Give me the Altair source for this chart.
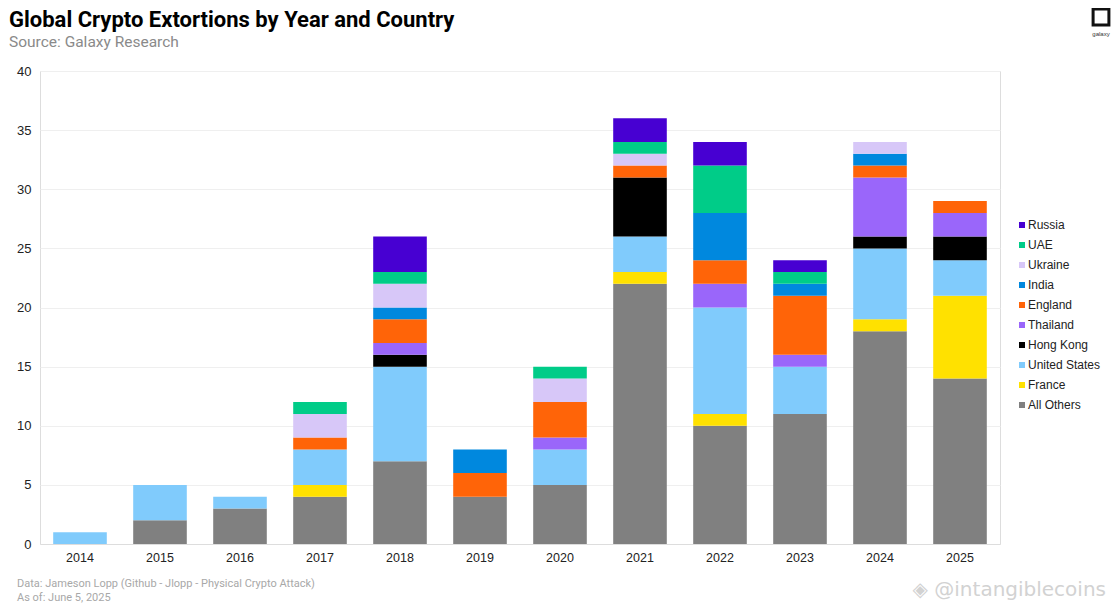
import altair as alt
import pandas as pd

years = ["2014", "2015", "2016", "2017", "2018", "2019", "2020", "2021", "2022", "2023", "2024", "2025"]
# stacking order bottom -> top
countries = ["All Others", "France", "United States", "Hong Kong", "Thailand",
             "England", "India", "Ukraine", "UAE", "Russia"]
colors = ["#808080", "#FFE100", "#80CBFC", "#000000", "#9A66FA",
          "#FF6408", "#0088DE", "#D7C7F8", "#00CC88", "#4700D2"]

all_others    = [0, 2, 3, 4, 7, 4, 5, 22, 10, 11, 18, 14]
france        = [0, 0, 0, 1, 0, 0, 0, 1, 1, 0, 1, 7]
united_states = [1, 3, 1, 3, 8, 0, 3, 3, 9, 4, 6, 3]
hong_kong     = [0, 0, 0, 0, 1, 0, 0, 5, 0, 0, 1, 2]
thailand      = [0, 0, 0, 0, 1, 0, 1, 0, 2, 1, 5, 2]
england       = [0, 0, 0, 1, 2, 2, 3, 1, 2, 5, 1, 1]
india         = [0, 0, 0, 0, 1, 2, 0, 0, 4, 1, 1, 0]
ukraine       = [0, 0, 0, 2, 2, 0, 2, 1, 0, 0, 1, 0]
uae           = [0, 0, 0, 1, 1, 0, 1, 1, 4, 1, 0, 0]
russia        = [0, 0, 0, 0, 3, 0, 0, 2, 2, 1, 0, 0]

series = [all_others, france, united_states, hong_kong, thailand,
          england, india, ukraine, uae, russia]

rows = []
for rank, (c, vals) in enumerate(zip(countries, series)):
    for y, v in zip(years, vals):
        if v > 0:
            rows.append({"Year": y, "Country": c, "Count": v, "rank": rank})
df = pd.DataFrame(rows)

legend_order = list(reversed(countries))
legend_colors = list(reversed(colors))

FONT = "Liberation Sans"

bars = alt.Chart(df).mark_bar().encode(
    x=alt.X("Year:N", sort=years, title=None,
            scale=alt.Scale(paddingInner=0.33, paddingOuter=0.165),
            axis=alt.Axis(labelAngle=0, ticks=False, domainColor="#dddddd",
                          labelFontSize=12.5, labelColor="#222222", labelPadding=7,
                          labelFont=FONT)),
    y=alt.Y("Count:Q", stack="zero", title=None,
            scale=alt.Scale(domain=[0, 40], nice=False),
            axis=alt.Axis(values=[0, 5, 10, 15, 20, 25, 30, 35, 40], domain=False,
                          ticks=False, gridColor="#efefef", labelFontSize=13,
                          labelColor="#222222", labelPadding=9, labelFont=FONT)),
    color=alt.Color("Country:N",
                    scale=alt.Scale(domain=legend_order, range=legend_colors),
                    legend=alt.Legend(title=None, orient="none", legendX=976, legendY=148,
                                      symbolType="square", symbolSize=36,
                                      symbolStrokeWidth=0, labelFontSize=12,
                                      labelFont=FONT, labelColor="#222222",
                                      rowPadding=8, labelOffset=0)),
    order=alt.Order("rank:Q", sort="ascending"),
)

footer1 = alt.Chart(pd.DataFrame({"t": ["Data: Jameson Lopp (Github - Jlopp - Physical Crypto Attack)"]})).mark_text(
    align="left", baseline="middle", fontSize=11, color="#a8a8a8", font="Roboto"
).encode(x=alt.value(-23), y=alt.value(513), text="t:N")

footer2 = alt.Chart(pd.DataFrame({"t": ["As of: June 5, 2025"]})).mark_text(
    align="left", baseline="middle", fontSize=11, color="#a8a8a8", font="Roboto"
).encode(x=alt.value(-23), y=alt.value(527), text="t:N")

watermark = alt.Chart(pd.DataFrame({"t": ["◈ @intangiblecoins"]})).mark_text(
    align="right", baseline="middle", fontSize=20, color="#d2d2d2", font="DejaVu Sans"
).encode(x=alt.value(1066), y=alt.value(519), text="t:N")

logo_box = alt.Chart(pd.DataFrame({"a": [1]})).mark_point(
    shape="square", filled=False, stroke="#111111", strokeWidth=3, size=250, opacity=1
).encode(x=alt.value(1061), y=alt.value(-54))

logo_text = alt.Chart(pd.DataFrame({"t": ["galaxy"]})).mark_text(
    align="center", baseline="middle", fontSize=6, color="#333333", font=FONT
).encode(x=alt.value(1061), y=alt.value(-37), text="t:N")

chart = alt.layer(bars, footer1, footer2, watermark, logo_box, logo_text).properties(
    width=960, height=473,
    autosize=alt.AutoSizeParams(type="none"),
    padding={"left": 32, "top": 63, "right": 112, "bottom": 62},
    title=alt.TitleParams(
        text="Global Crypto Extortions by Year and Country",
        subtitle="Source: Galaxy Research",
        anchor="start", frame="group", dx=-31, offset=-48,
        font="Roboto", fontSize=22, fontWeight="bold", color="#000000",
        subtitleFont="Roboto", subtitleFontSize=15.5, subtitleColor="#8a8a8a",
        subtitlePadding=3,
    ),
).configure_view(strokeWidth=0).configure(background="white")

chart.save("out.html", embed_options={"renderer": "svg", "actions": False})
